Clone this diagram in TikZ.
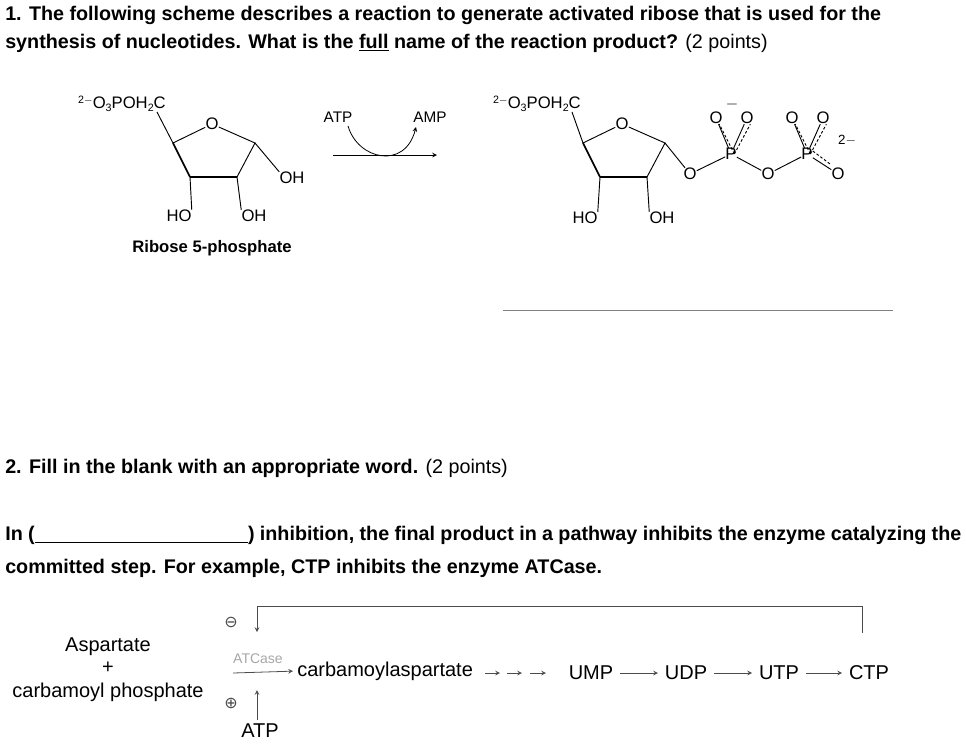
\documentclass[tikz,border=0pt]{standalone}
\usepackage{fontspec}
\setmainfont{Liberation Sans}
\newfontfamily\djvfont{DejaVu Sans}
\newcommand{\mysup}[1]{\raisebox{0.5ex}{\footnotesize #1}}
\newcommand{\mysub}[1]{\raisebox{-0.35ex}{\footnotesize #1}}
\begin{document}
\begin{tikzpicture}[x=0.75pt,y=-0.75pt,
  hd/.style={anchor=west,inner sep=0pt,font=\fontsize{14.8}{17}\selectfont},
  ch/.style={inner sep=0pt,font=\fontsize{12.5}{14}\selectfont},
  bd/.style={line width=0.7pt},
  thk/.style={line width=2.2pt},
  rx/.style={inner sep=0pt,font=\fontsize{15}{17}\selectfont},
  ar/.style={-stealth,line width=0.6pt},
  gar/.style={-stealth,line width=0.6pt,gray!60!black}]
\useasboundingbox (0,0) rectangle (966,744);
% headings
\node[hd] (t1) at (5,15) {\textbf{1. The following scheme describes a reaction to generate activated ribose that is used for the}};
\node[hd] (t2) at (5,43) {\textbf{synthesis of nucleotides. What is the \underline{full} name of the reaction product?} (2 points)};
% left ribose
\node[ch,anchor=east] (lc) at (166,104) {\mysup{2$-$}O\mysub{3}POH\mysub{2}C};
\coordinate (a4) at (173,143); \node[ch] (ao) at (212,124) {O};
\coordinate (a1) at (255,143); \coordinate (a2) at (237,177); \coordinate (a3) at (190,177);
\draw[bd] (157,112) -- (a4) -- (ao) -- (a1) -- (a2);
\draw[line width=1.2pt] (a4) -- (a3);
\draw[thk] (a3) -- (a2);
\node[ch] (aoh1) at (292,178) {OH};
\node[ch] (aho) at (179,216) {HO};
\node[ch] (aoh2) at (254,216) {OH};
\draw[bd] (a1) -- (aoh1.north west);
\draw[bd] (a3) -- (aho.north east);
\draw[bd] (a2) -- (aoh2.north west);
\node[ch,font=\bfseries\fontsize{12.5}{14}\selectfont] (rname) at (212,248) {Ribose 5-phosphate};
% reaction arrow
\node[ch,font=\fontsize{11.5}{13}\selectfont] (atp) at (338,117) {ATP};
\node[ch,font=\fontsize{11.5}{13}\selectfont] (amp) at (430,117) {AMP};
\coordinate (s) at (333,155); \coordinate (e) at (437,155);
\draw[ar] (s) -- (e);
\draw[ar] (348,126) .. controls (358,160) and (405,170) .. (416,127);
% right product
\node[ch,anchor=east] (rc) at (581,104) {\mysup{2$-$}O\mysub{3}POH\mysub{2}C};
\coordinate (b4) at (583,143); \node[ch] (bo) at (622,124) {O};
\coordinate (b1) at (665,143); \coordinate (b2) at (647,177); \coordinate (b3) at (600,177);
\draw[bd] (572,112) -- (b4) -- (bo) -- (b1) -- (b2);
\draw[line width=1.2pt] (b4) -- (b3);
\draw[thk] (b3) -- (b2);
\node[ch] (bho) at (585,218) {HO};
\node[ch] (boh) at (662,218) {OH};
\draw[bd] (b3) -- (bho.north east);
\draw[bd] (b2) -- (boh.north west);
\node[ch] (o1) at (690,174) {O};
\node[ch] (p1) at (731,154) {P};
\node[ch] (o2) at (768,174) {O};
\node[ch] (p2) at (807,154) {P};
\node[ch] (o3) at (838,174) {O};
\node[ch] (o4) at (716,118) {O};
\node[ch] (o5) at (747,118) {O};
\node[ch] (o6) at (792,118) {O};
\node[ch] (o7) at (823,118) {O};
\node[ch] (m1) at (732,104) {$-$};
\node[ch,font=\fontsize{10}{12}\selectfont] (m2) at (847,140) {2$-$};
\draw[bd] (b1) -- (o1) -- (p1) -- (o2) -- (p2);
\foreach \o in {o4,o5}{\draw[bd] (p1) -- (\o); \draw[bd,dash pattern=on 2pt off 1.5pt] ([xshift=2.5pt]p1.center) -- ([xshift=2.5pt]\o.south);}
\foreach \o in {o6,o7}{\draw[bd] (p2) -- (\o); \draw[bd,dash pattern=on 2pt off 1.5pt] ([xshift=2.5pt]p2.center) -- ([xshift=2.5pt]\o.south);}
\draw[bd] (p2) -- (o3);
\draw[bd,dash pattern=on 2pt off 1.5pt] ([yshift=2.2pt]p2.east) -- ([yshift=2.2pt]o3.north west);
% answer line
\coordinate (l1) at (503,310); \coordinate (l2) at (893,310);
\draw[line width=0.6pt,gray] (l1) -- (l2);
% section 2
\node[hd] (t3) at (5,468) {\textbf{2. Fill in the blank with an appropriate word.} (2 points)};
\node[hd] (t4) at (5,535) {\makebox[717pt][s]{\bfseries In (\underline{\hbox to 160pt{}}) inhibition, the final product in a pathway inhibits the enzyme catalyzing the}};
\node[hd] (t5) at (5,568) {\textbf{committed step. For example, CTP inhibits the enzyme ATCase.}};
% pathway
\begin{scope}[every node/.style={rx}]
\node (asp) at (108,647) {Aspartate};
\node (plus) at (108,668) {+};
\node (cp) at (108,692) {carbamoyl phosphate};
\node[anchor=west] (ca) at (297,671) {carbamoylaspartate};
\node (ump) at (591,673) {UMP};
\node (udp) at (686,673) {UDP};
\node (utp) at (779,673) {UTP};
\node (ctp) at (869,673) {CTP};
\node (atp2) at (260,731) {ATP};
\end{scope}
\node[inner sep=0pt,font=\djvfont\fontsize{12}{14}\selectfont,gray!60!black] (minus) at (231,622) {⊖};
\node[inner sep=0pt,font=\djvfont\fontsize{12}{14}\selectfont,gray!60!black] (plusc) at (231,703) {⊕};
\node[inner sep=0pt,font=\fontsize{10.5}{12}\selectfont,gray!70] (atc) at (258,659) {ATCase};
\coordinate (en) at (233,673);
\draw[gar,shorten >=3pt] (en) -- (ca.west);
\coordinate (fb1) at (862,633); \coordinate (fb2) at (257,632);
\draw[gar] (fb1) -- (862,606) -- (257,606) -- (fb2);
\draw[gar] (atp2.north) ++(-3,-4) -- (257,690);
\coordinate (c1) at (485,673); \coordinate (c2) at (500,673);
\coordinate (c3) at (507,673); \coordinate (c4) at (522,673);
\coordinate (c5) at (530,673); \coordinate (c6) at (546,673);
\draw[gar] (c1) -- (c2);
\draw[gar] (c3) -- (c4);
\draw[gar] (c5) -- (c6);
\draw[gar,shorten <=5pt,shorten >=5pt] (ump) -- (udp);
\draw[gar,shorten <=5pt,shorten >=5pt] (udp) -- (utp);
\draw[gar,shorten <=5pt,shorten >=5pt] (utp) -- (ctp);
\end{tikzpicture}
\end{document}
